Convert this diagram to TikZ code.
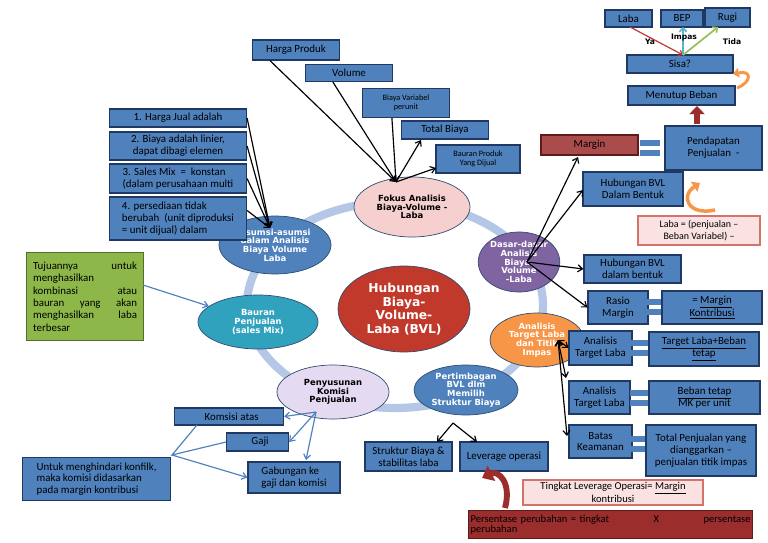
\documentclass[tikz,border=0pt]{standalone}
\usepackage{fontspec}
\setmainfont{Carlito}
\newfontfamily\dv{DejaVu Sans}
\usetikzlibrary{shapes.geometric,arrows.meta}
\definecolor{bb}{HTML}{4F81BD}
\definecolor{bd}{HTML}{1F3864}
\definecolor{rng}{HTML}{B4C7E7}
\definecolor{teal2}{HTML}{31A2BE}
\definecolor{purp}{HTML}{8064A2}
\definecolor{orng}{HTML}{F79646}
\definecolor{redc}{HTML}{C0392B}
\definecolor{darkred}{HTML}{9B2D2D}
\definecolor{pinkf}{HTML}{F6CFCF}
\definecolor{lav}{HTML}{E4DAF2}
\definecolor{grn}{HTML}{8DB849}
\tikzset{
 x=0.03cm,y=-0.03cm,
 sz/.style 2 args={minimum width=#1*0.03cm,minimum height=#2*0.03cm},
 box/.style={draw=bd,fill=bb,line width=1pt,inner sep=1pt,align=center,font=\fontsize{9.3}{10}\selectfont},
 ell/.style={ellipse,draw=bb!60!black,line width=0.6pt,inner sep=0pt,align=center,text=white,font=\dv\bfseries\fontsize{7.2}{7.4}\selectfont},
 arr/.style={-{Straight Barb[length=4pt,width=6pt]},line width=1pt},
 barr/.style={{Straight Barb[length=4pt,width=6pt]}-{Straight Barb[length=4pt,width=6pt]},line width=1pt},
 barl/.style={-{Straight Barb[length=4pt,width=6pt]},line width=1pt,draw=bb},
}
\newcommand\eqsgn[2]{\fill[bb] (#1-10,#2-8) rectangle (#1+10,#2-2);\fill[bb] (#1-10,#2+2) rectangle (#1+10,#2+8);}
\begin{document}
\begin{tikzpicture}
\useasboundingbox (0,0) rectangle (768,543);
% ring
\draw[rng,line width=7pt] (395,305) ellipse [x radius=148, y radius=103];
% ellipses
\node[ell,fill=pinkf,text=black,sz={116}{60}] (fok) at (412,207) {Fokus Analisis\\Biaya-Volume -\\Laba};
\node[ell,fill=bb,sz={112}{58}] (asu) at (275,245) {Asumsi-asumsi\\dalam Analisis\\Biaya Volume\\Laba};
\node[ell,fill=teal2,sz={120}{54}] (bau) at (258,322) {Bauran\\Penjualan\\(sales Mix)};
\node[ell,fill=redc,sz={132}{86},font=\dv\bfseries\fontsize{10.5}{11.5}\selectfont] (hub) at (404,309) {Hubungan\\Biaya-\\Volume-\\Laba (BVL)};
\node[ell,fill=purp,sz={72}{60}] (das) at (519,262) {Dasar-dasar\\Analisis\\Biaya-\\Volume\\-Laba};
\node[ell,fill=orng,sz={94}{54}] (tar) at (537,340) {Analisis\\Target Laba\\dan Titik\\Impas};
\node[ell,fill=bb,sz={104}{50}] (per) at (466,390) {Pertimbagan\\BVL dlm\\Memilih\\Struktur Biaya};
\node[ell,fill=lav,text=black,sz={112}{54}] (pen) at (333,392) {Penyusunan\\Komisi\\Penjualan};
% top boxes
\node[box,sz={87}{20}] (hp) at (296,50) {Harga Produk};
\node[box,sz={87}{17}] (vol) at (349,73) {Volume};
\node[box,sz={87}{29},font=\fontsize{7}{8}\selectfont] (bv) at (406,103) {Biaya Variabel\\perunit};
\node[box,sz={87}{18}] (tb) at (445,130) {Total Biaya};
\node[box,sz={84}{28},font=\fontsize{7}{8}\selectfont] (bp) at (478,159) {Bauran Produk\\Yang Dijual};
\coordinate (fk) at (396,182);
\draw[arr] (hp.south west)++(18,0) -- (fk);
\draw[arr] (vol.south west)++(28,0) -- (fk);
\draw[arr] (bv.south west)++(30,0) -- (fk);
\draw[arr] (fk) -- (421,140);
\draw[arr] (fk) -- (436,168);
% assumption boxes
\node[box,sz={137}{18}] (a1) at (178,118) {1. Harga Jual adalah};
\node[box,sz={137}{28}] (a2) at (178,146) {2. Biaya adalah linier,\\dapat dibagi elemen};
\node[box,sz={137}{29},align=left] (a3) at (178,178.5) {3. Sales Mix \ = \ konstan\\(dalam perusahaan multi};
\node[box,sz={137}{43},align=left] (a4) at (178,218.5) {4. persediaan tidak\\berubah \ (unit diproduksi\\= unit dijual) dalam};
\coordinate (as) at (270,228);
\draw[arr] (a1.east) -- (as);
\draw[arr] (a2.east) -- (as);
\draw[arr] (a3.east) -- (as);
\draw[arr] (a4.east)++(0,-8) -- (as);
% green
\node[draw=grn!60!black,fill=grn,line width=1pt,sz={117}{88},text width=104*0.03cm,align=left,inner sep=3pt,font=\fontsize{9.3}{10.6}\selectfont,anchor=north west] (gr) at (26,252) {Tujuannya\hfill untuk\\menghasilkan\\kombinasi\hfill atau\\bauran\hfill yang\hfill akan\\menghasilkan\hfill laba\\terbesar};
\draw[barl] (143,285) -- (bau);
% komisi
\node[box,sz={109}{17},anchor=west,align=left] (ka) at (174,416.5) {\ \ Komsisi atas};
\node[box,sz={62}{18},anchor=west,align=left] (gj) at (226,442) {\ \ Gaji};
\node[box,sz={92}{31},align=left] (gb) at (294,477.5) {Gabungan ke\\gaji dan komisi};
\node[box,sz={148}{43},align=left,anchor=north west] (un) at (22,457) {Untuk menghindari konfilk,\\maka komisi didasarkan\\pada margin kontribusi};
\coordinate (pk) at (316,412);
\draw[barl] (pk) -- (ka.east);
\draw[barl] (pk) -- (gj.east);
\draw[barl] (pk) -- (306,460);
\coordinate (kk) at (172,455);
\draw[line width=1pt,draw=bb] (197,425) -- (kk) -- (gj.west);
\draw[barl] (kk) -- (gb.west);
% struktur
\node[box,sz={87}{29}] (sb) at (408.5,456.5) {Struktur Biaya \&\\stabilitas laba};
\node[box,sz={88}{29}] (lo) at (504,456.5) {Leverage operasi};
\coordinate (pp) at (453,423);
\draw[arr] (pp) -- (437,442);
\draw[arr] (pp) -- (477,442);
\node[draw=redc!70,fill=pinkf!60,line width=1pt,sz={180}{25},inner sep=1pt,align=center,font=\fontsize{9}{9.5}\selectfont] (tl) at (613,492.5) {Tingkat Leverage Operasi= \underline{Margin}\\kontribusi};
\node[draw=darkred!60!black,fill=darkred,line width=1pt,sz={284}{28},anchor=north west,inner sep=1pt,text width=280*0.03cm,font=\fontsize{9}{9}\selectfont] (pr) at (468,510) {Persentase perubahan = tingkat\hfill X\hfill persentase\\perubahan};
\draw[darkred,line width=5pt,-{Triangle[length=9pt,width=14pt]}] (505,508) .. controls (512,482) and (498,470) .. (482,478);
% right side
\node[box,sz={47}{17}] (lb) at (628.5,18.5) {Laba};
\node[box,sz={42}{17}] (bep) at (682,18.5) {BEP};
\node[box,sz={45}{19}] (rg) at (727.5,17.5) {Rugi};
\node[box,sz={106}{18}] (ss) at (680,64) {Sisa?};
\node[box,sz={107}{19}] (mb) at (681.5,95.5) {Menutup Beban};
\draw[red!70!black!80,line width=1pt,-{Straight Barb[length=3pt,width=5pt]}] (630,27) -- (683,55);
\draw[teal2!80!white,line width=1.5pt,-{Straight Barb[length=3pt,width=6pt]}] (683,55) -- (683,27);
\draw[grn!90!white,line width=1.5pt,-{Straight Barb[length=3pt,width=6pt]}] (683,55) -- (718,27);
\node[font=\dv\bfseries\fontsize{6.5}{7}\selectfont] at (650,42) {Ya};
\node[font=\dv\bfseries\fontsize{6.5}{7}\selectfont] at (684,38) {Impas};
\node[font=\dv\bfseries\fontsize{6.5}{7}\selectfont] at (732,42) {Tida};
\draw[orng,line width=2.5pt,-{Triangle[length=5pt,width=8pt]}] (737,88) .. controls (752,82) and (752,70) .. (733,74);
\draw[darkred,line width=5pt,-{Triangle[length=7pt,width=13pt]}] (697,124) -- (697,106);
\node[draw=darkred!60!black,fill=darkred!85,line width=1pt,sz={97}{20},font=\fontsize{9.3}{10}\selectfont] (mg) at (589.5,145) {Margin};
\eqsgn{650}{148}
\node[box,sz={97}{44}] (pj) at (713.5,148) {Pendapatan\\Penjualan \ -};
\node[box,sz={100}{34}] (h1) at (633,189) {Hubungan BVL\\Dalam Bentuk};
\draw[orng,line width=3pt,-{Triangle[length=6pt,width=10pt]}] (715,210) .. controls (688,216) and (680,196) .. (700,183);
\node[draw=redc!70,fill=pinkf!60,line width=1pt,sz={122}{29},inner sep=1pt,align=center,font=\fontsize{8.5}{9.5}\selectfont] (lbf) at (699,230.5) {Laba = (penjualan –\\Beban Variabel) –};
\node[box,sz={97}{28}] (h2) at (632.5,269) {Hubungan BVL\\dalam bentuk};
\node[box,sz={60}{33}] (rm) at (618,307.5) {Rasio\\Margin};
\eqsgn{655}{307}
\node[box,sz={100}{33}] (mk) at (712,307.5) {= \underline{Margin}\\\underline{Kontribusi}};
\node[box,sz={63}{34}] (at1) at (600.5,348) {Analisis\\Target Laba};
\eqsgn{640}{348}
\node[box,sz={110}{34}] (tb1) at (704,349) {\underline{Target Laba+Beban}\\\underline{tetap}};
\node[box,sz={61}{33}] (at2) at (599.5,397.5) {Analisis\\Target Laba};
\eqsgn{640}{398}
\node[box,sz={111}{33}] (bt) at (704.5,397.5) {\underline{Beban tetap}\\MK per unit};
\node[box,sz={63}{33}] (bk) at (600.5,441.5) {Batas\\Keamanan};
\eqsgn{639}{444}
\node[box,sz={110}{51}] (tp) at (701,450.5) {Total Penjualan yang\\dianggarkan –\\penjualan titik impas};
\coordinate (dd) at (527,262);
\draw[arr] (dd) -- (578,157);
\draw[arr] (dd) -- (583,190);
\draw[arr] (dd) -- (h2.west);
\draw[arr] (dd) -- (rm.west);
\coordinate (tt) at (558,340);
\draw[barr] (tt) -- (at1.west);
\draw[barr] (tt) -- (566,378);
\draw[barr] (tt) -- (567,436);
\end{tikzpicture}
\end{document}
